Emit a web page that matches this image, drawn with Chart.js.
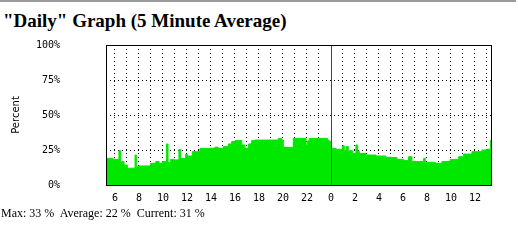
<!DOCTYPE html>
<html>
<head>
<meta charset="utf-8">
<script src="https://cdn.jsdelivr.net/npm/chart.js@4/dist/chart.umd.min.js"></script>
<style>
  body { margin: 0; background: #fff; width: 518px; height: 241px; position: relative; overflow: hidden; }
  .topline { position: absolute; left: 0; top: 0; width: 516px; height: 2px; background: #9a9a9a; }
  .graph-title { position: absolute; left: 3px; top: 11px; margin: 0; font: bold 19px/19px "Liberation Serif", "Times New Roman", serif; color: #000; white-space: nowrap; }
  .graph-stats { position: absolute; left: 1px; top: 206px; font: 12px/14px "Liberation Serif", "Times New Roman", serif; color: #000; white-space: nowrap; }
  #daily-chart { position: absolute; left: 0; top: 0; }
</style>
</head>
<body>
<div class="topline"></div>
<h2 class="graph-title">"Daily" Graph (5 Minute Average)</h2>
<canvas id="daily-chart" width="518" height="241"></canvas>
<div class="graph-stats">Max: 33 %&nbsp; Average: 22 %&nbsp; Current: 31 %</div>

<script>
  // hour of the sample (24 = midnight, values past 24 are the next day)
  const sampleHours = [
    5.25, 5.83, 6.33, 6.47, 6.75, 7.03, 7.67, 7.78, 8.0, 8.97, 9.39, 9.67, 9.94,
    10.3, 10.42, 10.64, 10.92, 11.33, 11.47, 11.89, 12.03, 12.44, 13.08, 14.33, 14.6,
    15.03, 15.44, 15.72, 16.0, 16.56, 16.83, 17.11, 17.39, 17.67, 19.61, 19.89, 20.03,
    20.86, 21.92, 22.06, 22.19, 23.72, 23.86, 24.0, 24.42, 24.97, 25.11, 25.28, 25.44,
    25.53, 25.81, 26.08, 26.22, 26.36, 26.92, 27.75, 28.58, 29.08, 29.5, 30.06, 30.47,
    30.75, 31.72, 31.86, 32.69, 33.25, 33.94, 34.64, 35.06, 35.75, 36.58, 37.0, 37.28, 37.42
  ];
  // 5 minute average, percent
  const samplePercent = [
    19, 18.3, 24.5, 16.7, 14.3, 12, 21.4, 13, 13.6, 15.5, 16.7, 15.5, 16.7,
    29.3, 16, 18.3, 17.9, 25.5, 19, 22, 20.7, 23.8, 26.2, 27, 26.2,
    27.4, 29.3, 31, 31.7, 28.6, 26.2, 29.3, 31.7, 32.1, 33.3, 32.1, 26.9,
    33.3, 28.6, 31.5, 33.3, 32, 31, 26.2, 25.5, 28, 24.5, 27.5, 23.8,
    24.5, 22.6, 28.6, 24, 22.6, 21.4, 20.7, 19.8, 19.6, 18.3, 17.4, 20.2,
    16.7, 19, 16.2, 15.5, 16.7, 18.3, 20.2, 22.1, 23.8, 25, 25.5, 31.7, 31.7
  ];

  const xRange = [5.25, 37.42];
  const xLabelHours = [6, 8, 10, 12, 14, 16, 18, 20, 22, 24, 26, 28, 30, 32, 34, 36];
  const xLabels = ['6', '8', '10', '12', '14', '16', '18', '20', '22', '0', '2', '4', '6', '8', '10', '12'];
  const yTicks = [0, 25, 50, 75, 100];
  const yLabels = ['0%', '25%', '50%', '75%', '100%'];
  const midnightHour = 24;

  (function() {
    // black frame round the plot and the red midnight marker
    const framePlugin = {
      id: 'frame',
      afterDraw(chart) {
        const { ctx, chartArea: a } = chart;
        const x = Math.round(chart.scales.x.getPixelForValue(midnightHour)) + 0.5;
        ctx.save();
        ctx.lineWidth = 1;
        ctx.strokeStyle = '#ee0000';
        ctx.setLineDash([]);
        ctx.beginPath();
        ctx.moveTo(x, a.top);
        ctx.lineTo(x, a.bottom);
        ctx.stroke();
        ctx.strokeStyle = '#000';
        ctx.strokeRect(a.left + 0.5, a.top + 0.5, a.right - a.left - 1, a.bottom - a.top);
        ctx.restore();
      }
    };

    const tickFont = { family: '"DejaVu Sans Mono", monospace', size: 10 };

    new Chart(document.getElementById('daily-chart'), {
      type: 'line',
      data: {
        datasets: [{
          data: sampleHours.map((h, i) => ({ x: h, y: samplePercent[i] })),
          stepped: true,
          fill: 'origin',
          backgroundColor: '#00e800',
          borderColor: '#00e800',
          borderWidth: 1,
          pointRadius: 0
        }]
      },
      options: {
        responsive: false,
        animation: false,
        devicePixelRatio: 1,
        layout: { padding: { left: 0, right: 26, top: 45, bottom: 36 } },
        plugins: { legend: { display: false }, tooltip: { enabled: false } },
        scales: {
          x: {
            type: 'linear',
            min: xRange[0],
            max: xRange[1],
            z: 1,
            afterFit: s => { s.height = 20; },
            afterBuildTicks: s => {
              const ticks = [];
              for (let h = Math.ceil(xRange[0]); h <= xRange[1]; h++) ticks.push({ value: h });
              s.ticks = ticks;
            },
            // grid colour is scriptable: skip the dotted line under the midnight marker
            grid: {
              color: c => (c.tick && c.tick.value === midnightHour ? 'rgba(0,0,0,0)' : '#000'),
              lineWidth: 1,
              drawTicks: false
            },
            border: { display: false, dash: [1, 3] },
            ticks: {
              autoSkip: false,
              maxRotation: 0,
              padding: 7,
              color: '#000',
              font: tickFont,
              callback: v => {
                const i = xLabelHours.indexOf(v);
                return i >= 0 ? xLabels[i] : '';
              }
            }
          },
          y: {
            min: 0,
            max: 100,
            z: 1,
            afterFit: s => { s.width = 106; },
            afterBuildTicks: s => { s.ticks = yTicks.map(v => ({ value: v })); },
            // invisible tick marks keep the labels away from the plot
            grid: { color: '#000', lineWidth: 1, drawTicks: true, tickLength: 46, tickColor: 'rgba(0,0,0,0)' },
            border: { display: false, dash: [1, 3] },
            ticks: {
              padding: 0,
              color: '#000',
              font: tickFont,
              callback: v => yLabels[yTicks.indexOf(v)]
            },
            title: {
              display: true,
              text: 'Percent',
              color: '#000',
              font: { family: '"DejaVu Sans", sans-serif', size: 10 },
              padding: { top: 10, bottom: 0 }
            }
          }
        }
      },
      plugins: [framePlugin]
    });
  })();
</script>
</body>
</html>
